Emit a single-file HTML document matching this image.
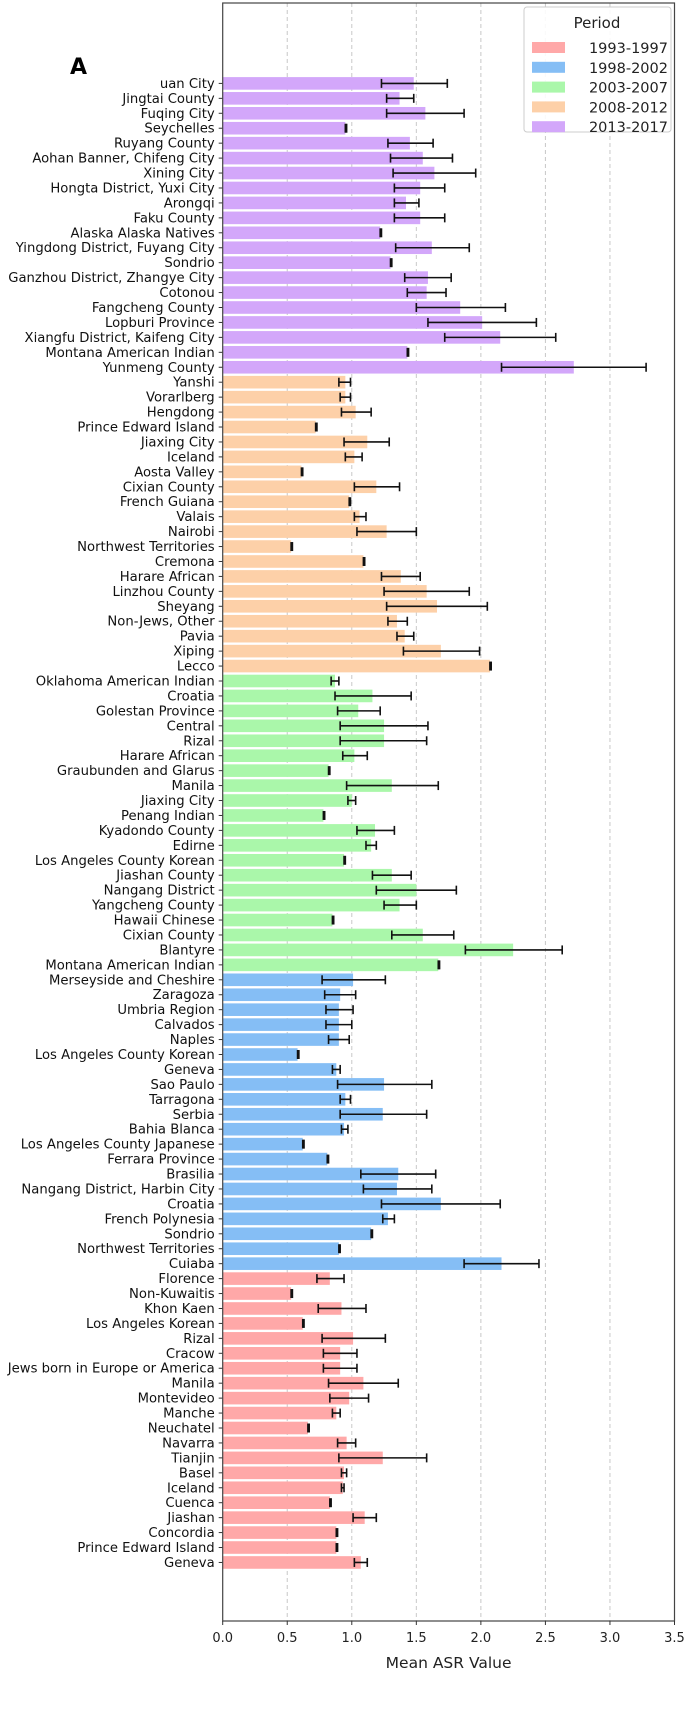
<!DOCTYPE html>
<html><head><meta charset="utf-8"><style>
html,body{margin:0;padding:0;background:#fff;}
svg{display:block;font-family:"DejaVu Sans","Liberation Sans",sans-serif;}
</style></head><body>
<svg id="chart" width="685" height="1719" viewBox="0 0 685 1719" xmlns="http://www.w3.org/2000/svg"></svg>
<script>
const labels = ["uan City","Jingtai County","Fuqing City","Seychelles","Ruyang County","Aohan Banner, Chifeng City","Xining City","Hongta District, Yuxi City","Arongqi","Faku County","Alaska Alaska Natives","Yingdong District, Fuyang City","Sondrio","Ganzhou District, Zhangye City","Cotonou","Fangcheng County","Lopburi Province","Xiangfu District, Kaifeng City","Montana American Indian","Yunmeng County",
"Yanshi","Vorarlberg","Hengdong","Prince Edward Island","Jiaxing City","Iceland","Aosta Valley","Cixian County","French Guiana","Valais","Nairobi","Northwest Territories","Cremona","Harare African","Linzhou County","Sheyang","Non-Jews, Other","Pavia","Xiping","Lecco",
"Oklahoma American Indian","Croatia","Golestan Province","Central","Rizal","Harare African","Graubunden and Glarus","Manila","Jiaxing City","Penang Indian","Kyadondo County","Edirne","Los Angeles County Korean","Jiashan County","Nangang District","Yangcheng County","Hawaii Chinese","Cixian County","Blantyre","Montana American Indian",
"Merseyside and Cheshire","Zaragoza","Umbria Region","Calvados","Naples","Los Angeles County Korean","Geneva","Sao Paulo","Tarragona","Serbia","Bahia Blanca","Los Angeles County Japanese","Ferrara Province","Brasilia","Nangang District, Harbin City","Croatia","French Polynesia","Sondrio","Northwest Territories","Cuiaba",
"Florence","Non-Kuwaitis","Khon Kaen","Los Angeles Korean","Rizal","Cracow","Jews born in Europe or America","Manila","Montevideo","Manche","Neuchatel","Navarra","Tianjin","Basel","Iceland","Cuenca","Jiashan","Concordia","Prince Edward Island","Geneva"];
const periodIdx = [4,4,4,4,4,4,4,4,4,4,4,4,4,4,4,4,4,4,4,4, 3,3,3,3,3,3,3,3,3,3,3,3,3,3,3,3,3,3,3,3, 2,2,2,2,2,2,2,2,2,2,2,2,2,2,2,2,2,2,2,2, 1,1,1,1,1,1,1,1,1,1,1,1,1,1,1,1,1,1,1,1, 0,0,0,0,0,0,0,0,0,0,0,0,0,0,0,0,0,0,0,0];
const means = [1.48,1.37,1.57,0.95,1.45,1.55,1.64,1.53,1.42,1.53,1.22,1.62,1.30,1.59,1.58,1.84,2.01,2.15,1.43,2.72,
0.95,0.95,1.03,0.72,1.12,1.02,0.61,1.19,0.98,1.06,1.27,0.53,1.09,1.38,1.58,1.66,1.35,1.41,1.69,2.07,
0.87,1.16,1.05,1.25,1.25,1.02,0.82,1.31,1.00,0.78,1.18,1.15,0.94,1.31,1.50,1.37,0.85,1.55,2.25,1.67,
1.01,0.91,0.90,0.90,0.90,0.58,0.88,1.25,0.95,1.24,0.94,0.62,0.81,1.36,1.35,1.69,1.28,1.15,0.90,2.16,
0.83,0.53,0.92,0.62,1.01,0.91,0.91,1.09,0.98,0.88,0.66,0.96,1.24,0.94,0.93,0.83,1.10,0.88,0.88,1.07];
const errLo = [1.23,1.27,1.27,0.95,1.28,1.30,1.32,1.33,1.33,1.33,1.22,1.34,1.30,1.41,1.43,1.50,1.59,1.72,1.43,2.16,
0.90,0.91,0.92,0.72,0.94,0.95,0.61,1.02,0.98,1.02,1.04,0.53,1.09,1.23,1.25,1.27,1.28,1.35,1.40,2.07,
0.84,0.87,0.89,0.91,0.91,0.93,0.82,0.96,0.97,0.78,1.04,1.11,0.94,1.16,1.19,1.25,0.85,1.31,1.88,1.67,
0.77,0.79,0.80,0.80,0.82,0.58,0.85,0.89,0.91,0.91,0.92,0.62,0.81,1.07,1.09,1.23,1.24,1.15,0.90,1.87,
0.73,0.53,0.74,0.62,0.77,0.78,0.78,0.82,0.83,0.85,0.66,0.89,0.90,0.92,0.92,0.83,1.01,0.88,0.88,1.02];
const errHi = [1.74,1.48,1.87,0.96,1.63,1.78,1.96,1.72,1.52,1.72,1.23,1.91,1.31,1.77,1.73,2.19,2.43,2.58,1.44,3.28,
0.99,0.99,1.15,0.73,1.29,1.08,0.62,1.37,0.99,1.11,1.50,0.54,1.10,1.53,1.91,2.05,1.43,1.48,1.99,2.08,
0.90,1.46,1.22,1.59,1.58,1.12,0.83,1.67,1.03,0.79,1.33,1.19,0.95,1.46,1.81,1.50,0.86,1.79,2.63,1.68,
1.26,1.03,1.01,1.00,0.98,0.59,0.91,1.62,0.99,1.58,0.97,0.63,0.82,1.65,1.62,2.15,1.33,1.16,0.91,2.45,
0.94,0.54,1.11,0.63,1.26,1.04,1.04,1.36,1.13,0.91,0.67,1.03,1.58,0.96,0.94,0.84,1.19,0.89,0.89,1.12];
const periods = ["1993-1997","1998-2002","2003-2007","2008-2012","2013-2017"];
const colors = ["#ffa8a8","#85bef5","#aaf7aa","#fdd0a8","#d3a7fa"];
const xTicks = [0,0.5,1.0,1.5,2.0,2.5,3.0,3.5];

const NS="http://www.w3.org/2000/svg";
const svg=document.getElementById('chart');
const L=222.7,R=674.5,T=3,B=1621,xMax=3.5;
const y0=83.4,step=14.94,bh=12.6;
const xs=v=>L+(v/xMax)*(R-L);
const ys=i=>y0+i*step;
function mk(tag,attrs,parent){const e=document.createElementNS(NS,tag);for(const k in attrs)e.setAttribute(k,attrs[k]);(parent||svg).appendChild(e);return e;}

xTicks.forEach(t=>{
  if(t>0&&t<xMax){const g=mk('line',{x1:xs(t),x2:xs(t),y1:T,y2:B,stroke:'#c8c8c8','stroke-width':1,'stroke-dasharray':'4,3'});
  
  }
});
labels.forEach((lab,i)=>{
  const y=ys(i);
  const b=mk('rect',{x:L,y:y-bh/2,width:xs(means[i])-L,height:bh,fill:colors[periodIdx[i]]});
  
  
  const e=mk('g',{stroke:'#111','stroke-width':1.6});
  
  
  mk('line',{x1:xs(errLo[i]),x2:xs(errHi[i]),y1:y,y2:y},e);
  mk('line',{x1:xs(errLo[i]),x2:xs(errLo[i]),y1:y-4.5,y2:y+4.5},e);
  mk('line',{x1:xs(errHi[i]),x2:xs(errHi[i]),y1:y-4.5,y2:y+4.5},e);
  mk('line',{x1:L-4,x2:L,y1:y,y2:y,stroke:'#333','stroke-width':1});
  const t=mk('text',{x:L-8,y:y+4.5,'text-anchor':'end','font-size':13.2,fill:'#111'});
  t.textContent=lab;
  
  
});
const f=mk('rect',{x:L,y:T,width:R-L,height:B-T,fill:'none',stroke:'#444','stroke-width':1.2});


xTicks.forEach(t=>{
  mk('line',{x1:xs(t),x2:xs(t),y1:B,y2:B+4,stroke:'#333','stroke-width':1});
  const tx=mk('text',{x:xs(t),y:B+21,'text-anchor':'middle','font-size':13,fill:'#222'});
  tx.textContent=t.toFixed(1);
  
  
});
const xt=mk('text',{x:(L+R)/2,y:B+47,'text-anchor':'middle','font-size':15.5,fill:'#222'});
xt.textContent='Mean ASR Value';


const pa=mk('text',{x:70,y:74,'font-size':22,'font-weight':'bold',fill:'#000'});
pa.textContent='A';


const lg=mk('g',{});


mk('rect',{x:524,y:7,width:147,height:125,rx:3,fill:'#fff','fill-opacity':0.9,stroke:'#ccc'},lg);
const lt=mk('text',{x:597,y:28,'text-anchor':'middle','font-size':15,fill:'#222'},lg);
lt.textContent='Period';
periods.forEach((p,i)=>{
  const yy=48+i*19.8;
  const sw=mk('rect',{x:532,y:yy-6,width:33,height:11,fill:colors[i]},lg);
  
  
  const t=mk('text',{x:668,y:yy+5,'text-anchor':'end','font-size':14.5,fill:'#222'},lg);
  t.textContent=p;
  
  
});
</script>
</body></html>
